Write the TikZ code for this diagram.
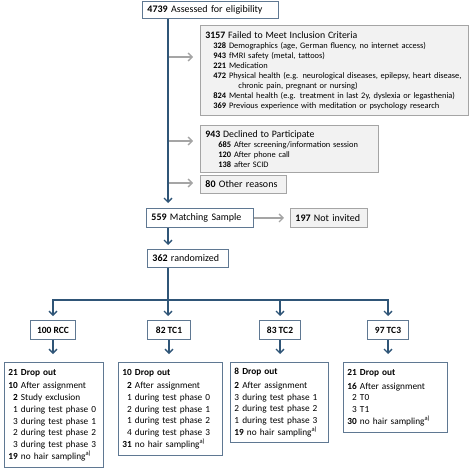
\documentclass[tikz,border=0pt]{standalone}
\usepackage{fontspec}
\setmainfont{Carlito}
\usetikzlibrary{arrows.meta,calc}

\definecolor{trunkblue}{HTML}{2F5577}
\definecolor{boxedge}{HTML}{5F7892}
\definecolor{sidegray}{HTML}{A5A5A5}
\definecolor{sidefill}{HTML}{F2F2F2}

\newcommand\subsize{\fontsize{8.4}{10}\selectfont}
\newcommand\headsize{\fontsize{9.8}{10}\selectfont}

\tikzset{
  mainbox/.style={draw=boxedge, line width=0.9pt, fill=white, anchor=north west,
    align=left, inner xsep=5pt, inner ysep=0pt, font=\fontsize{10}{12}\selectfont},
  sidebox/.style={mainbox, draw=sidegray, fill=sidefill},
  groupbox/.style={mainbox, anchor=north, align=center, inner xsep=0pt,
    font=\fontsize{9.5}{11}\selectfont\bfseries},
  dropbox/.style={mainbox, inner xsep=4pt, font=\fontsize{9.3}{11.7}\selectfont},
  mainarrow/.style={draw=trunkblue, line width=1.4pt,
    -{Straight Barb[length=4pt,width=8pt,line width=1.4pt]}},
  mainline/.style={draw=trunkblue, line width=1.4pt},
  sidearrow/.style={draw=sidegray, line width=1.3pt,
    -{Straight Barb[length=4pt,width=8pt,line width=1.3pt]}},
}

\begin{document}
\begin{tikzpicture}[x=1pt, y=-1pt]
  \useasboundingbox (0,0) rectangle (474,468);

  % screening column
  \node[mainbox, text width=126pt, minimum height=17pt] (assess) at (142,1)
    {\textbf{4739} Assessed for eligibility};
  \node[sidebox, text width=258pt, minimum height=90pt, font=\subsize] (failed) at (200,25)
    {{\headsize\textbf{3157} Failed to Meet Inclusion Criteria}\\
     \hspace*{8pt}\textbf{328} Demographics (age, German fluency, no internet access)\\
     \hspace*{8pt}\textbf{943} fMRI safety (metal, tattoos)\\
     \hspace*{8pt}\textbf{221} Medication\\
     \hspace*{8pt}\mbox{\textbf{472} Physical health (e.g. neurological diseases, epilepsy, heart disease,}\\
     \hspace*{33pt}chronic pain, pregnant or nursing)\\
     \hspace*{8pt}\textbf{824} Mental health (e.g. treatment in last 2y, dyslexia or legasthenia)\\
     \hspace*{8pt}\textbf{369} Previous experience with meditation or psychology research};
  \node[sidebox, text width=168pt, minimum height=47pt, font=\subsize] (declined) at (200,125)
    {{\headsize\textbf{943} Declined to Participate}\\
     \hspace*{13pt}\textbf{685} After screening/information session\\
     \hspace*{13pt}\textbf{120} After phone call\\
     \hspace*{13pt}\textbf{138} after SCID};
  \node[sidebox, text width=76pt, minimum height=18pt] (other) at (200,175)
    {\textbf{80} Other reasons};
  \node[mainbox, text width=97pt, minimum height=19pt] (matching) at (146,208)
    {\textbf{559} Matching Sample};
  \node[sidebox, text width=67pt, minimum height=19pt] (notinv) at (290,208)
    {\textbf{197} Not invited};
  \node[mainbox, text width=71pt, minimum height=18pt] (rand) at (147,249)
    {\textbf{362} randomized};

  % groups
  \node[groupbox, minimum width=45pt, minimum height=19pt] (rcc) at (53,320) {100 RCC};
  \node[groupbox, minimum width=43pt, minimum height=19pt] (tc1) at (169,320) {82 TC1};
  \node[groupbox, minimum width=41pt, minimum height=19pt] (tc2) at (280,320) {83 TC2};
  \node[groupbox, minimum width=41pt, minimum height=19pt] (tc3) at (388,320) {97 TC3};

  % drop outs
  \node[dropbox, text width=91pt, minimum height=105pt] (rccdrop) at (4,362)
    {\textbf{21 Drop out}\\[2pt]
     \textbf{10} After assignment\\
     \phantom{0}\textbf{2} Study exclusion\\
     \phantom{0}1 during test phase 0\\
     \phantom{0}3 during test phase 1\\
     \phantom{0}2 during test phase 2\\
     \phantom{0}3 during test phase 3\\
     \textbf{19} no hair sampling\textsuperscript{a)}};
  \node[dropbox, text width=96pt, minimum height=93pt] (tc1drop) at (118,362)
    {\textbf{10 Drop out}\\[2pt]
     \phantom{0}\textbf{2} After assignment\\
     \phantom{0}1 during test phase 0\\
     \phantom{0}2 during test phase 1\\
     \phantom{0}1 during test phase 2\\
     \phantom{0}4 during test phase 3\\
     \textbf{31} no hair sampling\textsuperscript{a)}};
  \node[dropbox, text width=90pt, minimum height=80pt] (tc2drop) at (230,362)
    {\textbf{8 Drop out}\\[2pt]
     \textbf{2} After assignment\\
     3 during test phase 1\\
     2 during test phase 2\\
     1 during test phase 3\\
     \textbf{19} no hair sampling\textsuperscript{a)}};
  \node[dropbox, text width=96pt, minimum height=70pt] (tc3drop) at (343,362)
    {\textbf{21 Drop out}\\[2pt]
     \textbf{16} After assignment\\
     \phantom{0}2 T0\\
     \phantom{0}3 T1\\
     \textbf{30} no hair sampling\textsuperscript{a)}};

  % connectors
  \coordinate (spine) at (168,0);
  \coordinate (failed in) at (169,57);
  \coordinate (declined in) at (169,141);
  \coordinate (other in) at (169,183);
  \coordinate (split) at (168,300);

  \draw[mainarrow, shorten >=5pt] (assess.south -| spine) -- (spine |- matching.north);
  \draw[sidearrow, shorten >=7pt] (failed in) -- (failed in -| failed.west);
  \draw[sidearrow, shorten >=7pt] (declined in) -- (declined in -| declined.west);
  \draw[sidearrow, shorten >=7pt] (other in) -- (other in -| other.west);
  \draw[sidearrow, shorten >=6pt] (matching) -- (notinv);
  \draw[mainarrow, shorten >=4pt] (matching.south -| spine) -- (spine |- rand.north);

  \draw[mainarrow, shorten >=4pt] (rand.south -| spine) -- (spine |- tc1.north);
  \draw[mainarrow, shorten >=4pt] (split) -| (rcc.north);
  \draw[mainarrow, shorten >=4pt] (split) -| (tc3.north);
  \draw[mainarrow, shorten >=4pt] (split -| tc2.north) -- (tc2.north);
  \foreach \g in {rcc,tc1,tc2,tc3}
    \draw[mainarrow, shorten >=8pt] (\g.south) -- (\g.south |- \g drop.north);
\end{tikzpicture}
\end{document}
